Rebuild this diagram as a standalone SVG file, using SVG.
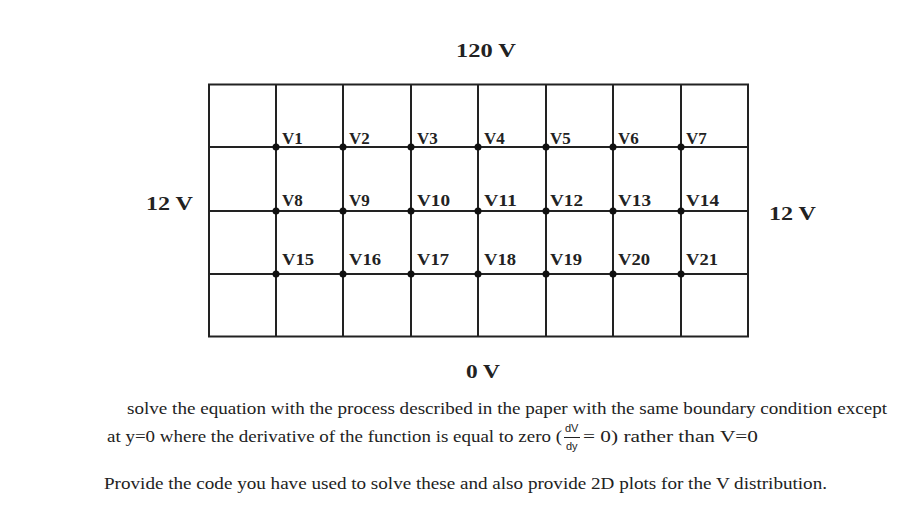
<svg xmlns="http://www.w3.org/2000/svg" width="902" height="508" viewBox="0 0 902 508">
<style>
.g{stroke:#222;stroke-width:2;fill:none}
.b{font-family:"Liberation Serif",serif;font-weight:bold;font-size:19px;fill:#222}
.l{font-family:"Liberation Serif",serif;font-weight:bold;font-size:17px;fill:#222}
.t{font-family:"Liberation Serif",serif;font-size:17px;fill:#222}
.s{font-family:"Liberation Sans",sans-serif;font-size:11px;fill:#222}
</style>
<rect width="902" height="508" fill="#fff"/>
<g id="grid">
<rect class="g" x="209" y="84.5" width="539" height="252"/>
<path class="g" d="M276 84.5V336.5M343 84.5V336.5M411 84.5V336.5M478 84.5V336.5M546 84.5V336.5M613 84.5V336.5M681 84.5V336.5M209 147H748M209 211H748M209 274H748"/>
</g>
<g id="nodes" fill="#111">
<g id="row1"><circle cx="276" cy="147" r="3.5"/><circle cx="343" cy="147" r="3.5"/><circle cx="411" cy="147" r="3.5"/><circle cx="478" cy="147" r="3.5"/><circle cx="546" cy="147" r="3.5"/><circle cx="613" cy="147" r="3.5"/><circle cx="681" cy="147" r="3.5"/></g>
<g id="row2"><circle cx="276" cy="211" r="3.5"/><circle cx="343" cy="211" r="3.5"/><circle cx="411" cy="211" r="3.5"/><circle cx="478" cy="211" r="3.5"/><circle cx="546" cy="211" r="3.5"/><circle cx="613" cy="211" r="3.5"/><circle cx="681" cy="211" r="3.5"/></g>
<g id="row3"><circle cx="276" cy="274" r="3.5"/><circle cx="343" cy="274" r="3.5"/><circle cx="411" cy="274" r="3.5"/><circle cx="478" cy="274" r="3.5"/><circle cx="546" cy="274" r="3.5"/><circle cx="613" cy="274" r="3.5"/><circle cx="681" cy="274" r="3.5"/></g>
</g>
<g id="labels" class="l">
<text x="282" y="144">V1</text><text x="349" y="144">V2</text><text x="417" y="144">V3</text><text x="484" y="144">V4</text><text x="550" y="144">V5</text><text x="618" y="144">V6</text><text x="686" y="144">V7</text>
<text x="282" y="206">V8</text><text x="349" y="206">V9</text><text x="417" y="206" textLength="33" lengthAdjust="spacingAndGlyphs">V10</text><text x="484" y="206" textLength="33" lengthAdjust="spacingAndGlyphs">V11</text><text x="550" y="206" textLength="33" lengthAdjust="spacingAndGlyphs">V12</text><text x="618" y="206" textLength="33" lengthAdjust="spacingAndGlyphs">V13</text><text x="686" y="206" textLength="33" lengthAdjust="spacingAndGlyphs">V14</text>
<text x="282" y="265" textLength="32" lengthAdjust="spacingAndGlyphs">V15</text><text x="349" y="265" textLength="32" lengthAdjust="spacingAndGlyphs">V16</text><text x="417" y="265" textLength="32" lengthAdjust="spacingAndGlyphs">V17</text><text x="484" y="265" textLength="32" lengthAdjust="spacingAndGlyphs">V18</text><text x="550" y="265" textLength="32" lengthAdjust="spacingAndGlyphs">V19</text><text x="618" y="265" textLength="32" lengthAdjust="spacingAndGlyphs">V20</text><text x="686" y="265" textLength="32" lengthAdjust="spacingAndGlyphs">V21</text>
</g>
<g id="boundary" class="b">
<text x="456" y="57" textLength="60" lengthAdjust="spacingAndGlyphs">120 V</text>
<text x="146" y="210" textLength="47" lengthAdjust="spacingAndGlyphs">12 V</text>
<text x="769" y="220" textLength="47" lengthAdjust="spacingAndGlyphs">12 V</text>
<text x="466" y="378" textLength="34" lengthAdjust="spacingAndGlyphs">0 V</text>
</g>
<g id="caption">
<text class="t" x="127" y="414" textLength="760" lengthAdjust="spacingAndGlyphs">solve the equation with the process described in the paper with the same boundary condition except</text>
<text class="t" x="107" y="442" textLength="455" lengthAdjust="spacingAndGlyphs">at y=0 where the derivative of the function is equal to zero (</text>
<text class="s" x="565" y="432">dV</text>
<line x1="564" y1="437.5" x2="580" y2="437.5" stroke="#222" stroke-width="1"/>
<text class="s" x="566" y="450">dy</text>
<text class="t" x="583" y="442" textLength="175" lengthAdjust="spacingAndGlyphs">= 0) rather than V=0</text>
<text class="t" x="104" y="489" textLength="723" lengthAdjust="spacingAndGlyphs">Provide the code you have used to solve these and also provide 2D plots for the V distribution.</text>
</g>
</svg>
